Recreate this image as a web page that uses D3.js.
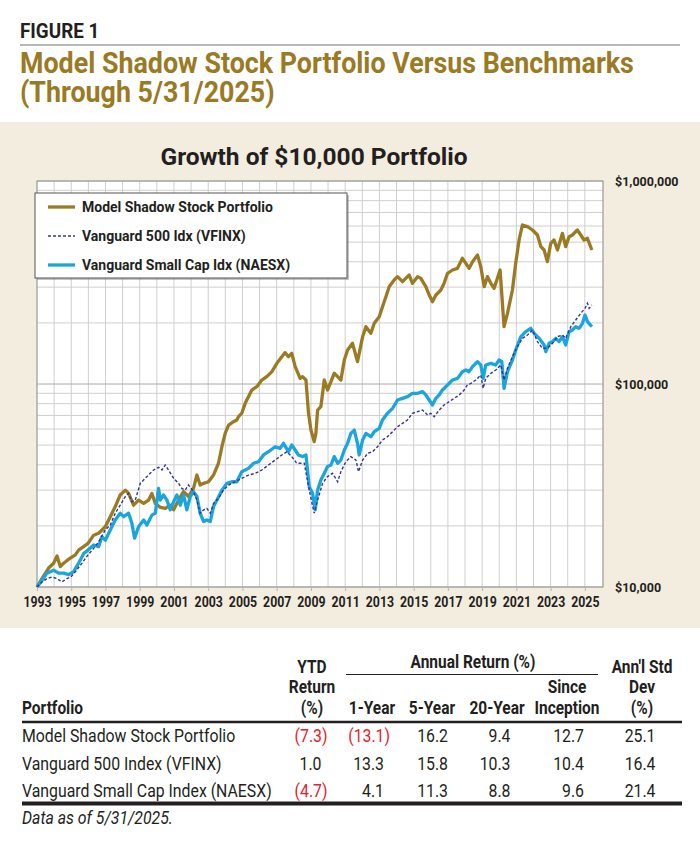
<!DOCTYPE html>
<html>
<head>
<meta charset="utf-8">
<script src="https://cdn.jsdelivr.net/npm/d3@7"></script>
<style>
  body { margin: 0; background: #fff; }
</style>
</head>
<body>
<svg id="fig" width="700" height="844"></svg>
<script>
// values: [decimal year, dollars]
const shadowStock = [
  [1993.00,10000],[1993.29,11000],[1993.68,12400],[1993.97,13100],[1994.17,14200],[1994.36,12600],
  [1994.56,13100],[1994.85,13700],[1995.24,14400],[1995.43,15200],[1995.72,15800],[1995.98,16400],
  [1996.31,18000],[1996.60,18400],[1996.99,19800],[1997.28,22200],[1997.57,24900],[1997.86,28400],
  [1998.16,30000],[1998.35,28900],[1998.64,25300],[1998.93,26800],[1999.23,25800],[1999.52,26800],
  [1999.71,28900],[1999.91,25800],[2000.20,24700],[2000.49,24400],[2000.78,25300],[2000.98,24000],
  [2001.27,26800],[2001.56,29500],[2001.85,27900],[2002.14,30600],[2002.34,35600],[2002.53,31800],
  [2002.73,32400],[2003.02,33000],[2003.31,35600],[2003.60,40700],[2003.80,49100],[2003.99,57100],
  [2004.19,62800],[2004.48,65200],[2004.67,66500],[2004.77,69000],[2004.96,71700],[2005.16,80300],
  [2005.35,86600],[2005.55,93400],[2005.84,97000],[2006.13,104600],[2006.42,108700],[2006.72,115000],
  [2007.01,126400],[2007.30,136300],[2007.49,142700],[2007.69,136300],[2007.88,141600],[2008.08,121700],
  [2008.37,106600],[2008.51,108700],[2008.71,104600],[2008.86,71700],[2009.00,59300],[2009.19,52000],
  [2009.29,57100],[2009.39,74400],[2009.58,77300],[2009.78,104600],[2009.97,93400],[2010.17,102700],
  [2010.36,112900],[2010.56,108700],[2010.75,104600],[2010.95,131300],[2011.14,147100],[2011.43,158600],
  [2011.72,128800],[2012.02,171100],[2012.21,191600],[2012.50,177700],[2012.70,199000],[2012.99,214600],
  [2013.18,240400],[2013.38,269300],[2013.57,301700],[2013.86,325400],[2014.06,337900],[2014.35,319300],
  [2014.54,331500],[2014.74,344300],[2014.93,313300],[2015.23,337900],[2015.42,331500],[2015.71,301700],
  [2015.91,274400],[2016.10,254400],[2016.30,274400],[2016.59,290400],[2016.78,313300],[2016.98,350900],
  [2017.27,364400],[2017.56,371400],[2017.85,415900],[2018.05,393000],[2018.24,371400],[2018.44,400500],
  [2018.73,432000],[2018.92,378400],[2019.12,301700],[2019.31,337900],[2019.51,313300],[2019.70,296000],
  [2020.05,364400],[2020.28,191600],[2020.48,222900],[2020.77,290400],[2020.96,393000],[2021.16,512200],
  [2021.35,607200],[2021.65,595700],[2021.94,573600],[2022.23,542000],[2022.43,474900],[2022.62,457300],
  [2022.81,400500],[2023.01,493200],[2023.20,512200],[2023.40,457300],[2023.69,552300],[2023.88,474900],
  [2024.08,531900],[2024.27,542000],[2024.56,573600],[2024.76,542000],[2024.95,512200],[2025.15,521900],
  [2025.41,457300]
];

const vanguard500 = [
  [1993.00,10000],[1993.29,10600],[1993.58,11000],[1993.88,11200],[1994.17,11000],[1994.46,10600],
  [1994.75,11000],[1994.98,11200],[1995.24,11900],[1995.63,13100],[1995.98,14400],[1996.31,15500],
  [1996.60,16700],[1996.99,19100],[1997.28,20200],[1997.57,23100],[1997.86,25300],[1998.16,27900],
  [1998.35,28900],[1998.54,26300],[1998.74,26800],[1999.03,32400],[1999.32,34300],[1999.61,36300],
  [1999.81,37700],[2000.10,38900],[2000.30,37700],[2000.49,39900],[2000.68,37700],[2000.98,34300],
  [2001.27,32400],[2001.46,30600],[2001.66,30000],[2001.85,31800],[2002.14,29500],[2002.34,26800],
  [2002.53,23100],[2002.73,24000],[2002.92,24400],[2003.12,23100],[2003.31,25800],[2003.60,27300],
  [2003.89,30000],[2004.19,31800],[2004.58,33000],[2004.96,34300],[2005.35,35600],[2005.74,36300],
  [2006.13,37700],[2006.52,39900],[2006.91,42200],[2007.30,44700],[2007.59,46400],[2007.88,43900],
  [2008.17,40700],[2008.61,40700],[2008.90,30000],[2009.19,23100],[2009.39,26800],[2009.68,32400],
  [2009.97,35000],[2010.26,36300],[2010.56,33000],[2010.75,37000],[2011.04,41400],[2011.33,43900],
  [2011.63,42200],[2011.78,37000],[2012.02,42200],[2012.31,45500],[2012.60,46400],[2012.89,49100],
  [2013.18,53000],[2013.47,55000],[2013.77,58200],[2014.06,61600],[2014.35,64000],[2014.64,66500],
  [2014.93,71700],[2015.23,73100],[2015.52,74400],[2015.81,70400],[2016.00,71700],[2016.20,69000],
  [2016.49,74400],[2016.78,78800],[2017.07,81800],[2017.37,85000],[2017.66,88300],[2017.95,93400],
  [2018.14,98900],[2018.34,100800],[2018.63,104600],[2018.92,110700],[2019.06,95200],[2019.21,106600],
  [2019.51,112900],[2019.80,117200],[2020.09,124100],[2020.28,104600],[2020.48,119500],[2020.77,136300],
  [2021.06,152800],[2021.35,167900],[2021.65,174300],[2021.94,184500],[2022.23,161600],[2022.52,149900],
  [2022.81,149900],[2023.11,158600],[2023.40,171100],[2023.69,174300],[2023.88,167900],[2024.18,191600],
  [2024.47,206700],[2024.76,222900],[2025.01,235900],[2025.15,249700],[2025.25,235900],[2025.41,245000]
];

const smallCap = [
  [1993.00,10000],[1993.29,10800],[1993.58,11700],[1993.97,12100],[1994.26,11700],[1994.56,11700],
  [1994.85,11500],[1995.14,11900],[1995.43,13100],[1995.72,14600],[1995.98,15200],[1996.31,16100],
  [1996.60,15800],[1996.79,17700],[1996.99,17000],[1997.28,19100],[1997.57,21400],[1997.86,23100],
  [1998.06,22200],[1998.35,23100],[1998.54,20600],[1998.70,17400],[1998.93,19800],[1999.23,21400],
  [1999.42,20200],[1999.71,22600],[1999.91,23100],[2000.10,30600],[2000.20,26800],[2000.39,28400],
  [2000.59,26800],[2000.78,24000],[2000.98,26300],[2001.17,28400],[2001.37,25300],[2001.56,28400],
  [2001.75,24000],[2001.95,27900],[2002.14,29500],[2002.34,27900],[2002.53,23100],[2002.73,21000],
  [2002.92,21400],[2003.12,21000],[2003.31,24900],[2003.51,26800],[2003.80,30000],[2004.09,32400],
  [2004.38,33000],[2004.67,33000],[2004.96,37000],[2005.35,38400],[2005.65,40700],[2005.94,41400],
  [2006.23,44700],[2006.52,46400],[2006.91,49100],[2007.20,48200],[2007.40,51000],[2007.69,46400],
  [2007.88,50100],[2008.08,47300],[2008.27,44700],[2008.51,43900],[2008.71,44700],[2008.90,31200],
  [2009.10,28900],[2009.25,24000],[2009.39,30000],[2009.58,33700],[2009.78,36300],[2009.97,39200],
  [2010.17,39900],[2010.36,43900],[2010.56,40700],[2010.75,42200],[2010.95,47300],[2011.14,51000],
  [2011.33,57100],[2011.53,59300],[2011.72,51000],[2011.82,44700],[2012.02,53000],[2012.21,57100],
  [2012.50,55000],[2012.70,58200],[2012.99,60500],[2013.18,66500],[2013.47,71700],[2013.77,75900],
  [2014.06,83400],[2014.35,85000],[2014.64,86600],[2014.93,90000],[2015.23,90000],[2015.52,91700],
  [2015.71,88300],[2015.91,83400],[2016.10,78800],[2016.30,85000],[2016.49,88300],[2016.68,93400],
  [2016.98,98900],[2017.27,104600],[2017.56,106600],[2017.85,115000],[2018.05,117200],[2018.24,115000],
  [2018.44,121700],[2018.73,128800],[2018.92,124100],[2019.06,106600],[2019.21,124100],[2019.51,126400],
  [2019.80,124100],[2019.99,131300],[2020.15,128800],[2020.28,95200],[2020.48,115000],[2020.77,131300],
  [2020.96,147100],[2021.26,171100],[2021.55,181000],[2021.84,188000],[2022.04,177700],[2022.33,167900],
  [2022.62,155600],[2022.72,144300],[2022.91,158600],[2023.11,161600],[2023.30,167900],[2023.49,161600],
  [2023.69,171100],[2023.88,155600],[2024.08,181000],[2024.27,184500],[2024.47,191600],[2024.66,188000],
  [2024.86,199000],[2025.01,218800],[2025.15,202800],[2025.41,191600]
];

const seriesNames = ["Model Shadow Stock Portfolio", "Vanguard 500 Idx (VFINX)", "Vanguard Small Cap Idx (NAESX)"];
const yearTicks = d3.range(1993, 2026, 2);
const dollarTicks = [10000, 100000, 1000000];

const rowNames = ["Model Shadow Stock Portfolio", "Vanguard 500 Index (VFINX)", "Vanguard Small Cap Index (NAESX)"];
const ytdReturn = [-7.3, 1.0, -4.7];
const oneYear = [-13.1, 13.3, 4.1];
const fiveYear = [16.2, 15.8, 11.3];
const twentyYear = [9.4, 10.3, 8.8];
const sinceInception = [12.7, 10.4, 9.6];
const stdDev = [25.1, 16.4, 21.4];

const gold = "#9a7a22";
const navy = "#34349a";
const cyan = "#1aa5dd";
const ink = "#231f20";

const svg = d3.select("#fig");

// condensed text: Roboto squeezed horizontally
function ctext(parent, x, y, str, o = {}) {
  return parent.append("text")
    .attr("transform", `translate(${x},${y}) scale(${o.sx || 0.86},1)`)
    .attr("text-anchor", o.anchor || "start")
    .attr("font-family", "Roboto, sans-serif")
    .attr("font-size", o.size || 17)
    .attr("font-weight", o.weight || 400)
    .attr("font-style", o.italic ? "italic" : "normal")
    .attr("fill", o.fill || ink)
    .text(str);
}

// ---- header ----
ctext(svg, 20, 38, "FIGURE 1", {size: 20.5, weight: 700, sx: 0.92});
svg.append("line").attr("x1", 20).attr("x2", 680).attr("y1", 45).attr("y2", 45)
  .attr("stroke", "#b8b8b8").attr("stroke-width", 2);
// two-line title kept in one text element
const title = ctext(svg, 20, 73, "", {size: 29, weight: 700, fill: gold, sx: 0.925});
title.append("tspan").attr("x", 0).attr("dy", 0).text("Model Shadow Stock Portfolio Versus Benchmarks");
title.append("tspan").attr("x", 0).attr("dy", 29).text("(Through 5/31/2025)");

// ---- chart panel ----
svg.append("rect").attr("x", 0).attr("y", 122).attr("width", 700).attr("height", 506).attr("fill", "#f3eddf");

svg.append("text").attr("x", 314).attr("y", 165).attr("text-anchor", "middle")
  .attr("font-family", "Roboto, sans-serif").attr("font-size", 24.5).attr("font-weight", 700)
  .attr("fill", ink).text("Growth of $10,000 Portfolio");

const x = d3.scaleLinear().domain([1993, 2026.06]).range([37, 603]);
const y = d3.scaleLog().domain([1e4, 1e6]).range([587, 181]);

const plot = svg.append("g");
plot.append("rect").attr("x", 37).attr("y", 181).attr("width", 566).attr("height", 406).attr("fill", "#fff");

// grid
plot.selectAll(".vg").data(d3.range(1994, 2026)).join("line")
  .attr("x1", d => x(d)).attr("x2", d => x(d)).attr("y1", 181).attr("y2", 587)
  .attr("stroke", "#cfcfcf").attr("stroke-width", 1);
plot.selectAll(".hg").data(y.ticks()).join("line")
  .attr("x1", 37).attr("x2", 603).attr("y1", d => y(d)).attr("y2", d => y(d))
  .attr("stroke", d => d === 100000 ? "#a8a8a8" : "#cfcfcf").attr("stroke-width", 1);
plot.append("rect").attr("x", 37).attr("y", 181).attr("width", 566).attr("height", 406)
  .attr("fill", "none").attr("stroke", "#9a9a9a").attr("stroke-width", 1.2);

// axes
const xAxis = svg.append("g").attr("transform", "translate(0,587)")
  .call(d3.axisBottom(x).tickValues(yearTicks).tickFormat(d3.format("d")).tickSize(4).tickPadding(6));
xAxis.select(".domain").remove();
xAxis.selectAll("line").attr("stroke", "#b5b5b5");
xAxis.selectAll("text").attr("transform", "scale(0.88,1)")
  .attr("font-family", "Roboto, sans-serif").attr("font-size", 14).attr("font-weight", 700).attr("fill", ink);

const yAxis = svg.append("g").attr("transform", "translate(603,0)")
  .call(d3.axisRight(y).tickValues(dollarTicks).tickFormat(d => "$" + d3.format(",")(d)).tickSize(0).tickPadding(12));
yAxis.select(".domain").remove();
yAxis.selectAll("text").attr("font-family", "Roboto, sans-serif").attr("font-size", 12.5)
  .attr("font-weight", 700).attr("fill", ink);

// lines
const line = d3.line().x(d => x(d[0])).y(d => y(d[1]));
plot.append("path").datum(shadowStock).attr("d", line)
  .attr("fill", "none").attr("stroke", gold).attr("stroke-width", 3.3).attr("stroke-linejoin", "round");
plot.append("path").datum(smallCap).attr("d", line)
  .attr("fill", "none").attr("stroke", cyan).attr("stroke-width", 3.3).attr("stroke-linejoin", "round");
plot.append("path").datum(vanguard500).attr("d", line)
  .attr("fill", "none").attr("stroke", navy).attr("stroke-width", 1.4).attr("stroke-dasharray", "3,2");

// legend
const lg = svg.append("g");
lg.append("rect").attr("x", 37).attr("y", 195).attr("width", 312).attr("height", 85).attr("fill", "#8a8a8a").attr("opacity", 0.5);
lg.append("rect").attr("x", 35).attr("y", 193).attr("width", 312).attr("height", 85)
  .attr("fill", "#fff").attr("stroke", "#555").attr("stroke-width", 1);
const lgStyle = [
  {stroke: gold, w: 3.3, dash: null},
  {stroke: navy, w: 1.4, dash: "3,2"},
  {stroke: cyan, w: 3.3, dash: null}
];
seriesNames.forEach((name, i) => {
  const cy = 207 + i * 29;
  lg.append("line").attr("x1", 48).attr("x2", 75).attr("y1", cy).attr("y2", cy)
    .attr("stroke", lgStyle[i].stroke).attr("stroke-width", lgStyle[i].w)
    .attr("stroke-dasharray", lgStyle[i].dash);
  lg.append("text").attr("x", 82).attr("y", cy + 5)
    .attr("font-family", "Roboto, sans-serif").attr("font-size", 14).attr("font-weight", 700)
    .attr("fill", ink).text(name);
});

// ---- table ----
const tb = svg.append("g");
const hdr = {size: 18, weight: 700};
ctext(tb, 22, 714, "Portfolio", hdr);
ctext(tb, 312, 673, "YTD", {...hdr, anchor: "middle"});
ctext(tb, 312, 693, "Return", {...hdr, anchor: "middle"});
ctext(tb, 312, 714, "(%)", {...hdr, anchor: "middle"});
ctext(tb, 473, 668, "Annual Return (%)", {...hdr, anchor: "middle"});
tb.append("line").attr("x1", 346).attr("x2", 598).attr("y1", 674.5).attr("y2", 674.5).attr("stroke", ink).attr("stroke-width", 1);
ctext(tb, 372, 714, "1-Year", {...hdr, anchor: "middle"});
ctext(tb, 432, 714, "5-Year", {...hdr, anchor: "middle"});
ctext(tb, 497, 714, "20-Year", {...hdr, anchor: "middle"});
ctext(tb, 567, 693, "Since", {...hdr, anchor: "middle"});
ctext(tb, 567, 714, "Inception", {...hdr, anchor: "middle"});
ctext(tb, 642, 673, "Ann'l Std", {...hdr, anchor: "middle"});
ctext(tb, 642, 693, "Dev", {...hdr, anchor: "middle"});
ctext(tb, 642, 714, "(%)", {...hdr, anchor: "middle"});

tb.append("line").attr("x1", 22).attr("x2", 682).attr("y1", 722).attr("y2", 722).attr("stroke", ink).attr("stroke-width", 2.5);
tb.append("line").attr("x1", 22).attr("x2", 682).attr("y1", 803.5).attr("y2", 803.5).attr("stroke", ink).attr("stroke-width", 4);

const cols = [ytdReturn, oneYear, fiveYear, twentyYear, sinceInception, stdDev];
const colRight = [321.5, 384, 448, 510.5, 584, 655.5];
rowNames.forEach((name, r) => {
  const base = 742 + r * 27.5;
  ctext(tb, 22, base, name, {size: 18, sx: 0.88});
  cols.forEach((col, c) => {
    const v = col[r];
    const neg = v < 0;
    ctext(tb, colRight[c] + (neg ? 6 : 0), base, neg ? `(${Math.abs(v).toFixed(1)})` : v.toFixed(1),
      {size: 18, sx: 0.88, anchor: "end", fill: neg ? "#e8202a" : ink});
  });
});

ctext(tb, 22, 824, "Data as of 5/31/2025.", {size: 18, sx: 0.88, italic: true});
</script>
</body>
</html>
